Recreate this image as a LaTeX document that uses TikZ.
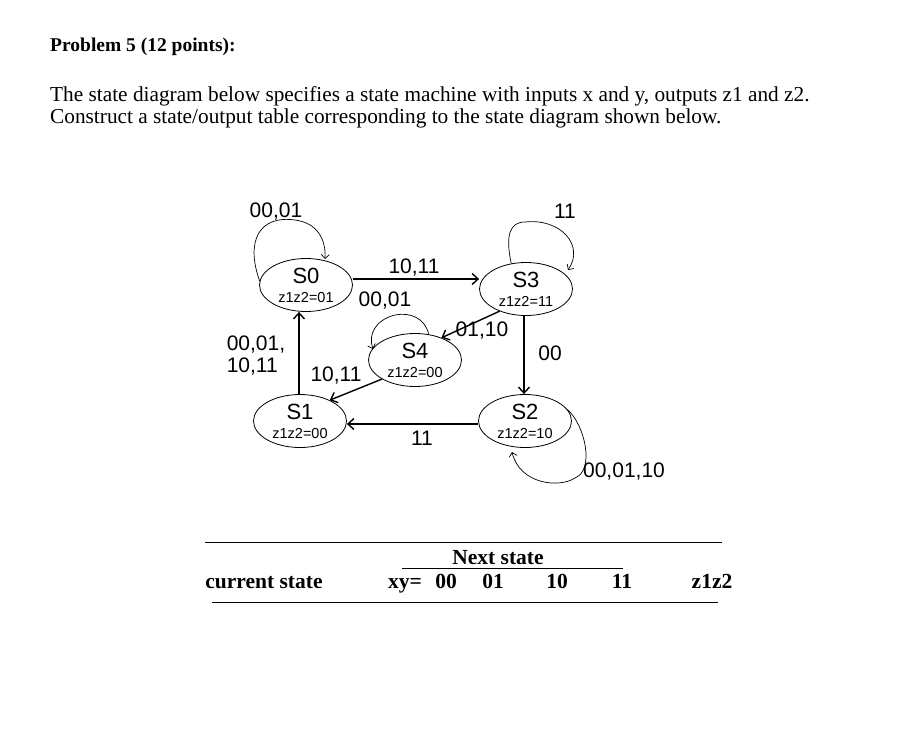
\documentclass[tikz,border=0pt]{standalone}
\usepackage{fontspec}
\setmainfont{Liberation Serif}
\newfontfamily\arialf{Liberation Sans}
\usetikzlibrary{shapes.geometric,arrows.meta}
\begin{document}
\begin{tikzpicture}[x=1pt,y=-1pt,
  st/.style={ellipse,draw,line width=0.8pt,minimum width=93pt,minimum height=53pt,inner sep=0pt,align=center,font=\arialf\fontsize{14}{19}\selectfont},
  edge/.style={line width=1.4pt,-{Straight Barb[length=6pt,width=11pt]}},
  loopl/.style={line width=0.7pt,-{Straight Barb[length=4pt,width=8pt]}},
  lab/.style={font=\arialf\fontsize{21}{22}\selectfont,align=left},
  tt/.style={font=\bfseries\fontsize{19.5}{22}\selectfont,anchor=base west,inner sep=0pt},
  tb/.style={font=\bfseries\fontsize{21.5}{23}\selectfont,anchor=base,inner sep=0pt}]
\useasboundingbox (0,0) rectangle (916,734);
\node[tt] (title) at (50,51) {Problem 5 (12 points):};
\node[font=\fontsize{21.3}{22}\selectfont,anchor=base west,inner sep=0pt] (p1) at (50,101) {The state diagram below specifies a state machine with inputs x and y, outputs z1 and z2.};
\node[font=\fontsize{21.3}{22}\selectfont,anchor=base west,inner sep=0pt] (p2) at (50,123) {Construct a state/output table corresponding to the state diagram shown below.};

\newcommand\stl[2]{{\fontsize{22}{19}\selectfont #1}\\{\fontsize{14.5}{19}\selectfont #2}}
\node[st] (S0) at (306,285) {\stl{S0}{z1z2=01}};
\node[st] (S3) at (526,289) {\stl{S3}{z1z2=11}};
\node[st] (S4) at (415,360) {\stl{S4}{z1z2=00}};
\node[st] (S1) at (300,421) {\stl{S1}{z1z2=00}};
\node[st] (S2) at (525,421) {\stl{S2}{z1z2=10}};

\draw[edge] (S0.east |- 0,279) -- (S3.west |- 0,279);
\draw[edge] (S3.220) -- (S4.40);
\draw[edge] (S3.south -| 524,0) -- (S2.north -| 524,0);
\draw[edge] (S2.west |- 0,424) -- (S1.east |- 0,424);
\draw[edge] (S4.210) -- (S1.35);
\draw[edge] (S1.north -| 299,0) -- (S0.south -| 299,0);

\draw[loopl] (S0.175) .. controls (245,240) and (260,215) .. (295,220) .. controls (318,223) and (326,240) .. (325,259);
\draw[loopl] (S3.120) .. controls (505,235) and (510,222) .. (525,222) .. controls (560,218) and (585,245) .. (568,270);
\draw[loopl] (S4.62) .. controls (425,318) and (410,312) .. (395,315) .. controls (375,320) and (368,335) .. (373,349);
\draw[loopl] (S2.15) .. controls (585,425) and (595,470) .. (575,478) .. controls (560,488) and (520,485) .. (512,452);

\node[lab] (l1) at (414,268) {10,11};
\node[lab] (l2) at (482,331) {01,10};
\node[lab] (l3) at (550,353) {00};
\node[lab] (l4) at (422,438) {11};
\node[lab] (l5) at (336,376) {10,11};
\node[lab,align=left] (l6) at (256,356) {00,01,\\10,11};
\node[lab] (l7) at (276,212) {00,01};
\node[lab] (l8) at (565,211) {11};
\node[lab] (l9) at (385,301) {00,01};
\node[lab] (l10) at (624,472) {00,01,10};

\coordinate (a1) at (205,542); \coordinate (a2) at (722,542);
\draw[line width=1pt] (a1) -- (a2);
\node[tb] (ns) at (498,564) {Next state};
\coordinate (b1) at (402,568); \coordinate (b2) at (623,568);
\draw[line width=1pt] (b1) -- (b2);
\node[tb] (cs) at (264,588) {current state};
\node[tb] (xy) at (405,588) {xy=};
\node[tb] (c00) at (446,588) {00};
\node[tb] (c01) at (493,588) {01};
\node[tb] (c10) at (557,588) {10};
\node[tb] (c11) at (622,588) {11};
\node[tb] (zz) at (712,588) {z1z2};
\coordinate (d1) at (212,602); \coordinate (d2) at (718,602);
\draw[line width=1pt] (d1) -- (d2);
\end{tikzpicture}
\end{document}
